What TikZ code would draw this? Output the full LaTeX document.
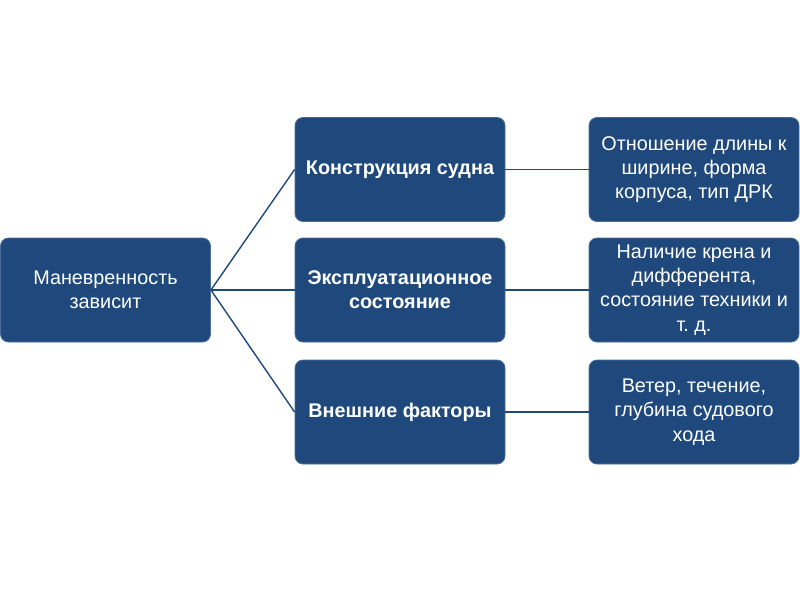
\documentclass[tikz,border=0pt]{standalone}
\usepackage{fontspec}
\setmainfont{Liberation Sans}
\frenchspacing
\definecolor{boxblue}{RGB}{31,73,125}
\begin{document}
\begin{tikzpicture}[x=1pt,y=-1pt,
  box/.style={draw=boxblue!80!white, line width=0.8pt, fill=boxblue, rounded corners=8pt,
    minimum width=210pt, minimum height=104pt, inner sep=1pt, text=white, align=center,
    font=\fontsize{19.8}{24.2}\selectfont},
  boldbox/.style={box, font=\fontsize{19.8}{24.2}\selectfont\bfseries},
  link/.style={draw=boxblue, line width=1.4pt}]
\useasboundingbox (0,0) rectangle (800,600);
\node[box] (root) at (105.5,290) {Маневренность\\зависит};
\node[boldbox] (m1) at (400,169.5) {Конструкция судна};
\node[boldbox] (m2) at (400,290) {Эксплуатационное\\состояние};
\node[boldbox] (m3) at (400,412) {Внешние факторы};
\node[box] (r1) at (694,169.5) {Отношение длины к\\ширине, форма\\корпуса, тип ДРК};
\node[box] (r2) at (694,290) {Наличие крена и\\дифферента,\\состояние техники и\\т.~д.};
\node[box] (r3) at (694,412) {Ветер, течение,\\глубина судового\\хода};
\draw[link] (root.east) -- (m1.west);
\draw[link] (root.east) -- (m2.west);
\draw[link] (root.east) -- (m3.west);
\draw[link] (m1.east) -- (r1.west);
\draw[link] (m2.east) -- (r2.west);
\draw[link] (m3.east) -- (r3.west);
\end{tikzpicture}
\end{document}
